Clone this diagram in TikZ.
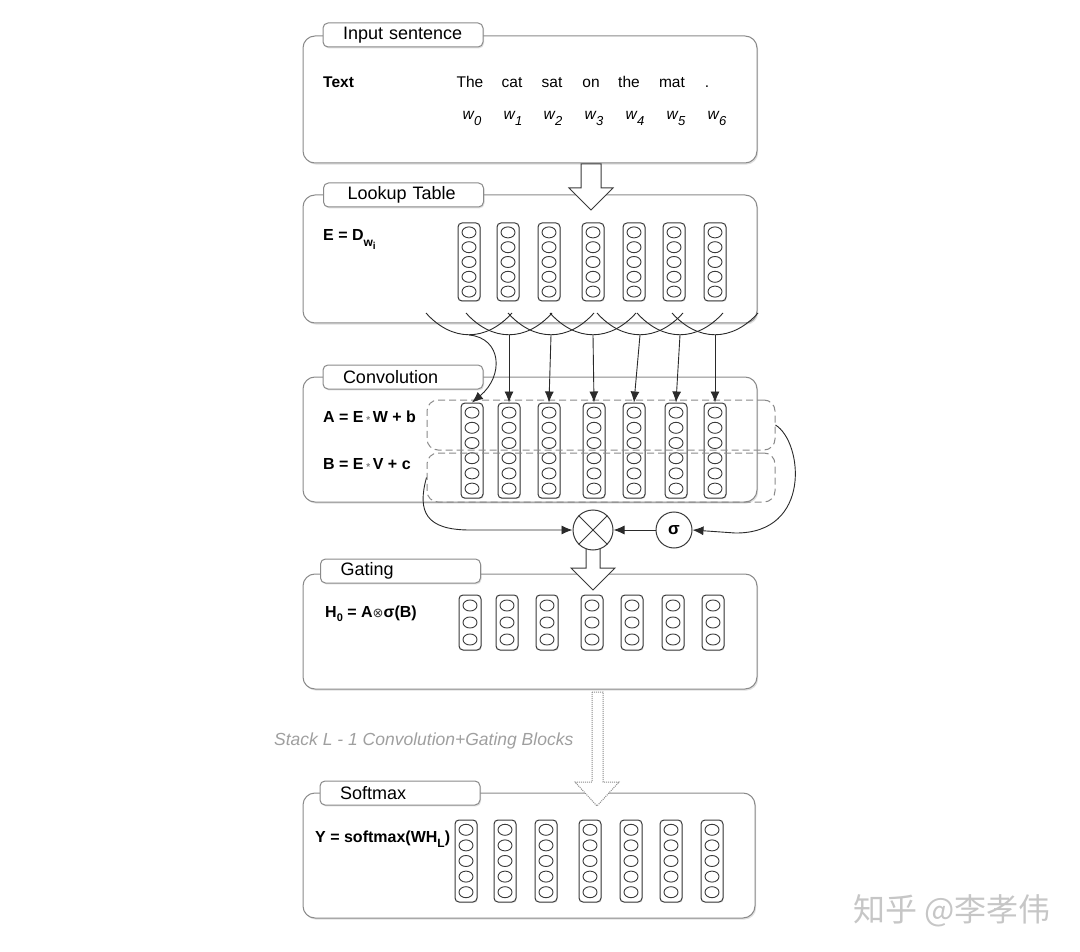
\documentclass[tikz,border=0pt]{standalone}
\usepackage{fontspec}
\setmainfont{Liberation Sans}
\newfontfamily\cjk{Noto Sans CJK SC}
\newfontfamily\djv{DejaVu Sans}
\usetikzlibrary{shadows,arrows.meta,calc}
\definecolor{boxgray}{HTML}{8A8A8A}
\definecolor{vecgray}{HTML}{3A3A3A}
\definecolor{arrcol}{HTML}{2A2A2A}
\newcommand\wsub[1]{\textit{w\kern0.5pt\raisebox{-6pt}{\fontsize{13}{13}\selectfont #1}}}
\newcommand\vcol[5]{%
  \pgfmathsetmacro\vh{#4*#5+4}%
  \node[vbox, minimum height=\vh pt] (#1) at (#2, {#3+\vh/2}) {};
  \foreach \k in {1,...,#4}{\draw[cell] (#2, {#3+2+(\k-0.5)*#5}) ellipse [x radius=7pt, y radius=5.5pt];}
}
\tikzset{
  mainbox/.style={draw=boxgray, fill=white, rounded corners=12pt, line width=1pt,
    drop shadow={shadow xshift=1.2pt, shadow yshift=-1.6pt, opacity=0.25}},
  tabbox/.style={draw=boxgray, fill=white, rounded corners=5pt, line width=1pt,
    drop shadow={shadow xshift=1pt, shadow yshift=-1.4pt, opacity=0.25},
    minimum height=24pt, text width=120pt, inner xsep=20pt, inner ysep=0pt, align=left,
    font=\fontsize{18}{20}\selectfont},
  vbox/.style={draw=vecgray, fill=white, rounded corners=4pt, line width=1pt, minimum width=22pt,
    drop shadow={shadow xshift=0.8pt, shadow yshift=-1pt, opacity=0.2}},
  cell/.style={draw=vecgray, line width=0.9pt, fill=white},
  dbox/.style={draw=boxgray, dashed, dash pattern=on 7pt off 4pt, rounded corners=11pt, line width=1pt},
  arcline/.style={draw=arrcol, line width=0.9pt},
  arr/.style={draw=arrcol, line width=0.9pt, -{Latex[length=11pt,width=9pt]}},
  hollow/.style={draw=vecgray, fill=white, line width=1pt, line join=miter},
  word/.style={font=\fontsize{15.5}{18}\selectfont, inner sep=0pt},
  flabel/.style={font=\bfseries\fontsize{16}{18}\selectfont, inner sep=0pt},
  opnode/.style={circle, draw=vecgray, fill=white, line width=1pt}
}
\begin{document}
\begin{tikzpicture}[x=1pt, y=-1pt]
\useasboundingbox (0,0) rectangle (1080,952);

% ---- main boxes
\node[mainbox, minimum width=454pt, minimum height=127pt] (inbox) at (530,99.5) {};
\node[mainbox, minimum width=454pt, minimum height=128pt] (lkbox) at (530,259) {};
\node[mainbox, minimum width=454pt, minimum height=125pt] (cvbox) at (530,439.5) {};
\node[mainbox, minimum width=454pt, minimum height=115pt] (gtbox) at (530,631.5) {};
\node[mainbox, minimum width=452pt, minimum height=125pt] (smbox) at (529,855.5) {};

% ---- tabs
\node[tabbox] (intab) at (403,35) {Input sentence};
\node[tabbox] (lktab) at (403.5,195) {\hspace*{4pt}Lookup Table};
\node[tabbox] (cvtab) at (403,377) {Convolution};
\node[tabbox] (gttab) at (400.5,571) {Gating};
\node[tabbox] (smtab) at (400,793) {Softmax};

% ---- input sentence
\node[flabel, font=\bfseries\fontsize{15.5}{18}\selectfont, anchor=base west] (txtlbl) at (323,88) {Text};
\foreach \w/\x in {The/470,cat/512,sat/552,on/591,the/629,mat/672,./707}
  \node[word, anchor=base] (wd\x) at (\x,88) {\w};
\foreach \i/\x in {0/472,1/513,2/553,3/594,4/635,5/676,6/717}
  \node[word, anchor=base] (w\i) at (\x,120) {\wsub{\i}};

% ---- hollow arrow input -> lookup
\draw[hollow] (581,164) -- (601,164) -- (601,188) -- (613,188) -- (591,210) -- (569,188) -- (581,188) -- cycle;

% ---- lookup table
\node[flabel, anchor=base west] (elbl) at (323,241)
  {E = D\raisebox{-5.5pt}{\fontsize{12}{12}\selectfont w\raisebox{-3.5pt}{\fontsize{10}{10}\selectfont i}}};
\foreach \i/\x in {0/469,1/508,2/549,3/593,4/634,5/674,6/715} {\vcol{L\i}{\x}{223}{5}{14.8}}

% ---- arcs (convolution windows)
\foreach \i/\b in {0/469,1/509,2/551,3/593,4/640,5/680,6/715} {
  \coordinate (u\i) at (\b,335);
  \draw[arcline] ({\b-43},313) .. controls ({\b-17},342) and ({\b+17},342) .. ({\b+43},313);
}

% ---- convolution
\node[flabel, anchor=base west] (albl) at (323,422) {A = E\,\raisebox{-1.5pt}{\fontsize{10}{10}\selectfont\color{gray}*}\,W + b};
\node[flabel, anchor=base west] (blbl) at (323,469) {B = E\,\raisebox{-1.5pt}{\fontsize{10}{10}\selectfont\color{gray}*}\,V + c};
\foreach \i/\x in {0/472,1/509,2/549,3/594,4/634,5/676,6/715} {\vcol{C\i}{\x}{403}{6}{15.2}}
\node[dbox, minimum width=348pt, minimum height=50pt] (Abox) at (601,425) {};
\node[dbox, minimum width=348pt, minimum height=49pt] (Bbox) at (601,477.5) {};

\draw[arr] (u0) .. controls (502,338) and (504,376) .. (C0.north);
\foreach \i in {1,...,6} \draw[arr] (u\i) -- (C\i.north);

% ---- gating operators
\draw[hollow] (586,548) -- (600,548) -- (600,568) -- (615,568) -- (593,590) -- (571,568) -- (586,568) -- cycle;
\node[opnode, minimum size=40pt] (ot) at (593,530) {};
\draw[vecgray, line width=0.9pt] (ot.north west) -- (ot.south east) (ot.north east) -- (ot.south west);
\node[opnode, minimum size=36pt, font=\bfseries\fontsize{17}{18}\selectfont] (sg) at (674,530) {σ};
\draw[arr] (Bbox.west) .. controls (417,512) and (426,530) .. (470,530) -- (ot.west);
\draw[arr] (Abox.east) .. controls (803,442) and (812,534) .. (735,533) -- (sg.east);
\draw[arr] (sg.west) -- (ot.east);

% ---- gating
\node[flabel, anchor=base west] (hlbl) at (325,617)
  {H\raisebox{-4pt}{\fontsize{11}{11}\selectfont 0} = A{\djv\mdseries\fontsize{13}{13}\selectfont\color{vecgray}⊗}σ(B)};
\foreach \i/\x in {0/470,1/507,2/547,3/592,4/632,5/673,6/713} {\vcol{G\i}{\x}{595}{3}{17}}

% ---- stack arrow
\draw[hollow, draw=boxgray, densely dotted, line width=1pt] (592,692) -- (603,692) -- (603,782) -- (619,782) -- (597,806) -- (575,782) -- (592,782) -- cycle;
\node[word, anchor=base west, font=\itshape\fontsize{17.5}{19}\selectfont, text=gray!75] (stack) at (274,745) {Stack L - 1 Convolution+Gating Blocks};

% ---- softmax
\node[flabel, anchor=base west] (ylbl) at (315,842)
  {Y = softmax(WH\raisebox{-5pt}{\fontsize{12}{12}\selectfont L})};
\foreach \i/\x in {0/466,1/505,2/546,3/590,4/631,5/671,6/712} {\vcol{S\i}{\x}{820}{5}{15.6}}

% ---- watermark
\node[anchor=base west, font=\cjk\fontsize{32}{34}\selectfont, text=gray!45, inner sep=0pt] (wm) at (853,921) {知乎 @李孝伟};
\end{tikzpicture}
\end{document}
